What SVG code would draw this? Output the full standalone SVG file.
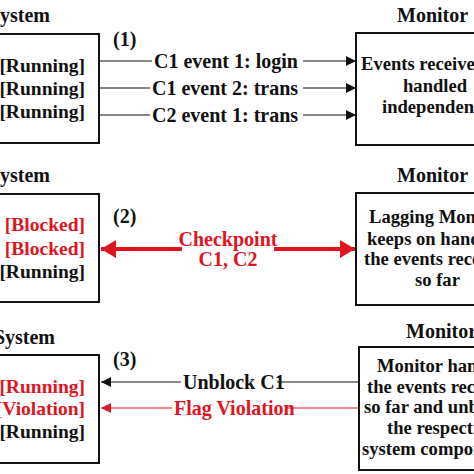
<svg xmlns="http://www.w3.org/2000/svg" width="474" height="474" viewBox="0 0 474 474">
<defs>
<style>
text{font-family:"Liberation Serif","Times New Roman",serif;font-size:20px;fill:#111;font-weight:bold}
.st{font-size:19.5px}
.mt{font-size:18.6px}
.red{fill:#e0141e}
.box{fill:#fff;stroke:#111;stroke-width:2}
.ln{stroke:#111;stroke-width:1.2;fill:none}
.lnr{stroke:#e0141e;stroke-width:1.2;fill:none}
.thick{stroke:#e0141e;stroke-width:4;fill:none}
</style>
<marker id="ab" markerUnits="userSpaceOnUse" markerWidth="12" markerHeight="10" refX="10" refY="5" orient="auto"><path d="M0,0 L10,5 L0,10 Z" fill="#111"/></marker>
<marker id="abr" markerUnits="userSpaceOnUse" markerWidth="12" markerHeight="10" refX="10" refY="5" orient="auto"><path d="M0,0 L10,5 L0,10 Z" fill="#e0141e"/></marker>
<marker id="big" markerUnits="userSpaceOnUse" markerWidth="16" markerHeight="18" refX="15" refY="9" orient="auto"><path d="M0,0 L15,9 L0,18 Z" fill="#e0141e"/></marker>
</defs>
<rect width="474" height="474" fill="#fff"/>

<!-- Panel 1 -->
<g id="system1">
<text x="50" y="22" text-anchor="end">System</text>
<rect class="box" x="-10" y="34" width="109" height="109"/>
<text class="st" x="85" y="72" text-anchor="end">[Running]</text>
<text class="st" x="85" y="95" text-anchor="end">[Running]</text>
<text class="st" x="85" y="118" text-anchor="end">[Running]</text>
</g>
<g id="monitor1">
<text x="397" y="22">Monitor</text>
<rect class="box" x="356" y="33" width="130" height="112"/>
<text class="mt" x="361" y="70">Events received are</text>
<text class="mt" x="403" y="92">handled</text>
<text class="mt" x="382" y="113">independently</text>
</g>
<text x="113" y="46" font-size="17">(1)</text>

<!-- Panel 2 -->
<g id="system2">
<text x="50" y="182" text-anchor="end">System</text>
<rect class="box" x="-10" y="194" width="109" height="108"/>
<text class="st red" x="85" y="231" text-anchor="end">[Blocked]</text>
<text class="st red" x="85" y="255" text-anchor="end">[Blocked]</text>
<text class="st" x="85" y="278" text-anchor="end">[Running]</text>
</g>
<g id="monitor2">
<text x="397" y="182">Monitor</text>
<rect class="box" x="356" y="193" width="130" height="112"/>
<text class="mt" x="369" y="223">Lagging Monitor</text>
<text class="mt" x="367" y="245">keeps on handling</text>
<text class="mt" x="364" y="265">the events received</text>
<text class="mt" x="415" y="286">so far</text>
</g>
<text x="113" y="223" font-size="17">(2)</text>

<!-- Panel 3 -->
<g id="system3">
<text x="55" y="344" text-anchor="end">System</text>
<rect class="box" x="-10" y="355" width="109" height="108"/>
<text class="st red" x="85" y="393" text-anchor="end">[Running]</text>
<text class="st red" x="85" y="415" text-anchor="end">[Violation]</text>
<text class="st" x="85" y="438" text-anchor="end">[Running]</text>
</g>
<g id="monitor3">
<text x="406" y="338">Monitor</text>
<rect class="box" x="359" y="347" width="130" height="123"/>
<text class="mt" x="377" y="372">Monitor handles</text>
<text class="mt" x="367" y="393">the events received</text>
<text class="mt" x="364" y="413">so far and unblocks</text>
<text class="mt" x="387" y="434">the respective</text>
<text class="mt" x="362" y="455">system component</text>
</g>
<text x="113" y="366" font-size="17">(3)</text>

<g id="connectors">
<line class="ln" x1="100" y1="61" x2="152" y2="61"/>
<line class="ln" x1="303" y1="61" x2="356" y2="61" marker-end="url(#ab)"/>
<text x="154" y="68">C1 event 1: login</text>
<line class="ln" x1="100" y1="88" x2="150" y2="88"/>
<line class="ln" x1="303" y1="88" x2="356" y2="88" marker-end="url(#ab)"/>
<text x="152" y="95">C1 event 2: trans</text>
<line class="ln" x1="100" y1="115" x2="150" y2="115"/>
<line class="ln" x1="303" y1="115" x2="356" y2="115" marker-end="url(#ab)"/>
<text x="152" y="122">C2 event 1: trans</text>

<line class="thick" x1="182" y1="249" x2="101" y2="249" marker-end="url(#big)"/>
<line class="thick" x1="274" y1="249" x2="355" y2="249" marker-end="url(#big)"/>
<text class="red" font-size="19.5" x="228" y="246" text-anchor="middle">Checkpoint</text>
<text class="red" font-size="19.5" x="228" y="266" text-anchor="middle">C1, C2</text>

<line class="ln" x1="359" y1="382" x2="277" y2="382"/>
<line class="ln" x1="181" y1="382" x2="101" y2="382" marker-end="url(#ab)"/>
<text x="183" y="389">Unblock C1</text>
<line class="lnr" x1="359" y1="408" x2="286" y2="408"/>
<line class="lnr" x1="172" y1="408" x2="101" y2="408" marker-end="url(#abr)"/>
<text class="red" x="174" y="415">Flag Violation</text>
</g>
</svg>
